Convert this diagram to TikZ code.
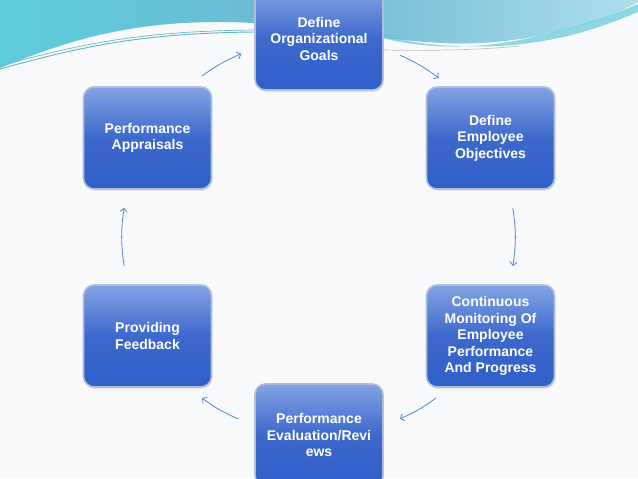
\documentclass[tikz,border=0pt]{standalone}
\usepackage{fontspec}
\setmainfont{Liberation Sans}
\usepackage{xcolor}
\definecolor{azul}{RGB}{48,94,200}
\definecolor{azulclaro}{RGB}{132,163,228}
\definecolor{borda}{RGB}{176,190,216}
\definecolor{seta}{RGB}{78,136,204}
\definecolor{fundo}{RGB}{248,249,250}
\definecolor{tealesc}{RGB}{92,204,220}
\definecolor{tealmed}{RGB}{112,184,210}
\definecolor{tealcla}{RGB}{172,224,234}
\usetikzlibrary{arrows.meta, calc, shadows}

\begin{document}
\begin{tikzpicture}[
    x=0.75pt, y=0.75pt,
    stage/.style={
      rectangle, rounded corners=8pt,
      draw=borda, line width=1.2pt,
      top color=azulclaro, bottom color=azul, middle color=azul!85!azulclaro,
      minimum width=96pt, minimum height=76.5pt,
      font=\fontsize{10.5}{12.4}\selectfont\bfseries, text=white,
      align=center, inner sep=3pt,
      drop shadow={opacity=0.25, shadow xshift=0.6pt, shadow yshift=-1.2pt}
    },
    arrow/.style={-{Straight Barb[length=2.6pt, width=5.5pt]}, line width=0.6pt, color=seta}
  ]

  % Background and wave
  \useasboundingbox (0,0) rectangle (638,478);
  \fill[fundo] (0,0) rectangle (638,478);
  \shade[left color=tealesc, right color=tealcla, middle color=tealmed]
    (0,478) -- (0,410) .. controls (60,434) and (120,456) .. (220,456)
    .. controls (310,456) and (400,431) .. (480,435)
    .. controls (540,438) and (600,455) .. (638,476) -- (638,478) -- cycle;
  \fill[tealesc!80!tealmed, opacity=0.7]
    (383,440) .. controls (420,430) and (470,428) .. (520,438)
    .. controls (570,448) and (610,462) .. (638,474) -- (638,466)
    .. controls (600,450) and (560,436) .. (500,432) .. controls (450,430) and (410,434) .. (383,444) -- cycle;
  \draw[tealesc!70!gray, line width=0.7pt]
    (0,409) .. controls (80,431) and (140,445) .. (256,446);
  \draw[tealesc!70!gray, line width=0.5pt]
    (0,412) .. controls (80,434) and (140,447) .. (256,448);
  \draw[gray!50, line width=0.5pt]
    (383,428) .. controls (430,427) and (480,428) .. (520,432);

  % Nodes on the cycle
  \coordinate (hub) at (319,241);
  \node[stage] (goals)       at ($(hub)+(90:198)$)  {Define\\Organizational\\Goals};
  \node[stage] (objectives)  at ($(hub)+(30:198)$)  {Define\\Employee\\Objectives};
  \node[stage] (monitoring)  at ($(hub)+(-30:198)$) {Continuous\\Monitoring Of\\Employee\\Performance\\And Progress};
  \node[stage] (evaluation)  at ($(hub)+(-90:198)$) {Performance\\Evaluation/Revi\\ews};
  \node[stage] (feedback)    at ($(hub)+(210:198)$) {Providing\\Feedback};
  \node[stage] (appraisals)  at ($(hub)+(150:198)$) {Performance\\Appraisals};

  % Arrow ends
  \coordinate (a1) at ($(hub)+(126:199)$);   \coordinate (b1) at ($(hub)+(113:199)$);
  \coordinate (a2) at ($(hub)+(66:199)$);    \coordinate (b2) at ($(hub)+(53:199)$);
  \coordinate (a3) at ($(hub)+(8.5:196)$);   \coordinate (b3) at ($(hub)+(-8.5:196)$);
  \coordinate (a4) at ($(hub)+(-54:199)$);   \coordinate (b4) at ($(hub)+(-66:199)$);
  \coordinate (a5) at ($(hub)+(-114:199)$);  \coordinate (b5) at ($(hub)+(-126:199)$);
  \coordinate (a6) at ($(hub)+(188.5:197)$); \coordinate (b6) at ($(hub)+(171.5:197)$);

  % Arrows
  \draw[arrow] (a1) to[bend left=6.5] (b1);
  \draw[arrow] (a2) to[bend left=6.5] (b2);
  \draw[arrow] (a3) to[bend left=8.5] (b3);
  \draw[arrow] (a4) to[bend left=6.5] (b4);
  \draw[arrow] (a5) to[bend left=6.5] (b5);
  \draw[arrow] (a6) to[bend left=8.5] (b6);

\end{tikzpicture}
\end{document}
